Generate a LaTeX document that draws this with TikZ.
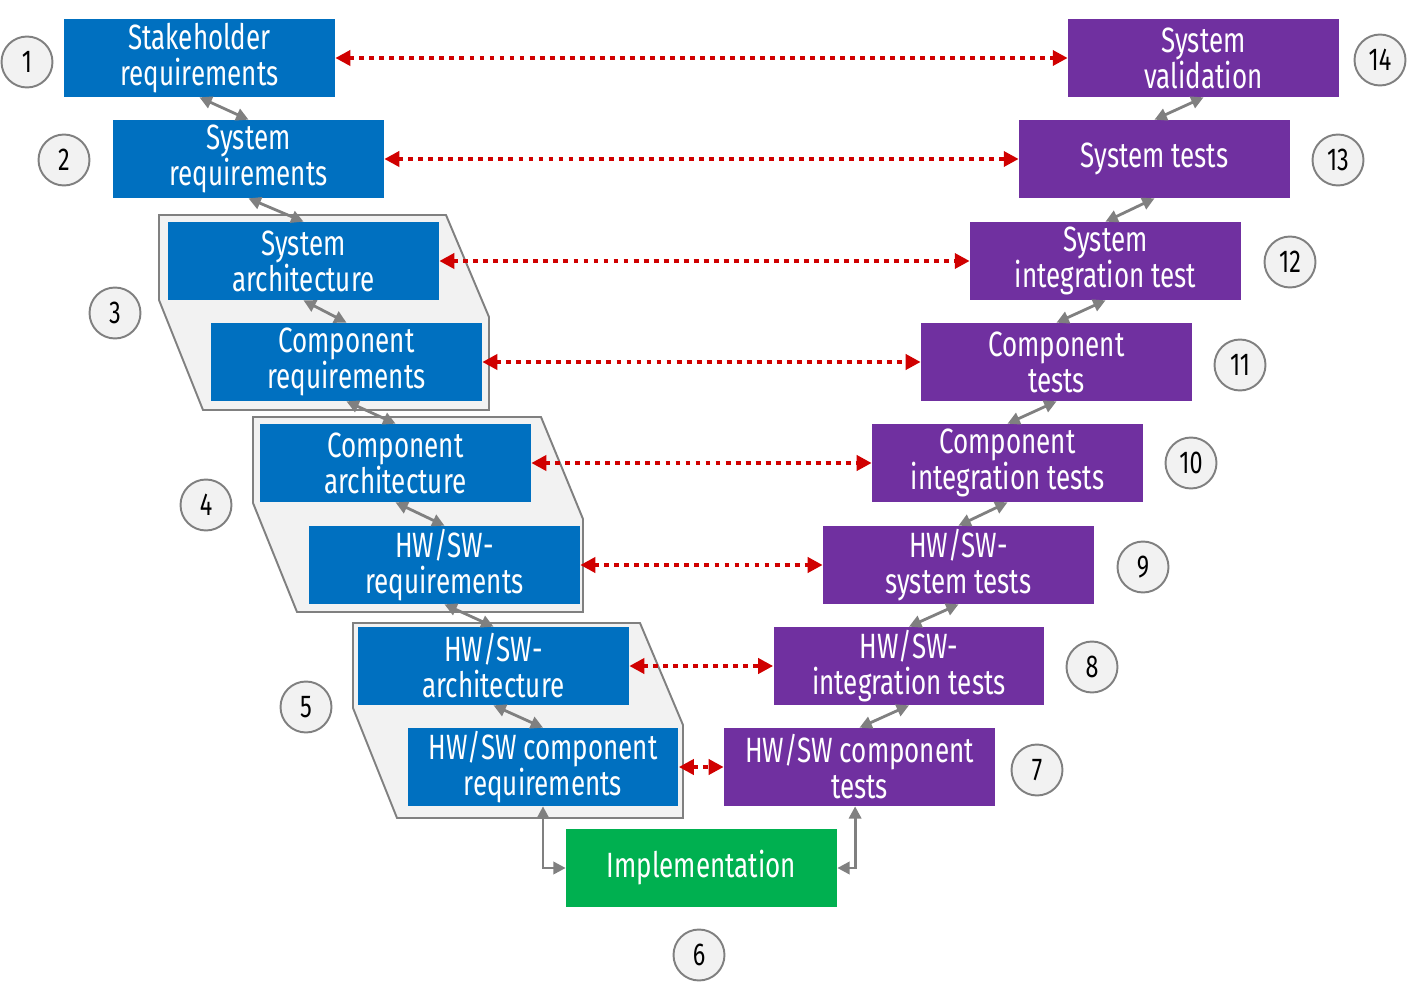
\documentclass[tikz,border=0pt]{standalone}
\usepackage{fontspec}
\setmainfont{Fira Sans}[FakeStretch=0.74]
\usepackage{tikz}
\usetikzlibrary{arrows.meta,positioning,calc}
\definecolor{reqblue}{HTML}{0070C0}
\definecolor{testpurple}{HTML}{7030A0}
\definecolor{implgreen}{HTML}{00B050}
\definecolor{linkred}{HTML}{D00000}
\definecolor{linkgray}{HTML}{808080}
\definecolor{groupfill}{HTML}{F2F2F2}
\tikzset{
  every node/.append style={align=center},
  stagebox/.style={minimum width=5.42cm, minimum height=1.56cm, inner sep=0pt,
    text=white, font=\fontsize{20}{20.5}\selectfont},
  reqbox/.style={stagebox, fill=reqblue},
  testbox/.style={stagebox, fill=testpurple},
  implbox/.style={stagebox, fill=implgreen},
  stepno/.style={circle, draw=linkgray, fill=groupfill, line width=1.1pt,
    minimum size=1.02cm, inner sep=0pt, font=\fontsize{18}{18}\selectfont},
  grouppoly/.style={draw=linkgray, fill=groupfill, line width=1.1pt},
  flow/.style={draw=linkgray, line width=1.6pt, {Triangle[length=7pt,width=7pt]}-{Triangle[length=7pt,width=7pt]}},
  verify/.style={draw=linkred, line width=2.8pt, dash pattern=on 2.8pt off 2.9pt,
    {Triangle[length=8.5pt,width=8.5pt]}-{Triangle[length=8.5pt,width=8.5pt]}}
}

\begin{document}
\begin{tikzpicture}[x=0.02cm, y=-0.02cm]
    \useasboundingbox (0,0) rectangle (1414,993);

    % Grouping backgrounds
    \draw[grouppoly] (159,215) -- (446,215) -- (489,317) -- (489,410) -- (203,410) -- (159,300) -- cycle;
    \draw[grouppoly] (253,417) -- (541,417) -- (583,519) -- (583,612) -- (297,612) -- (253,503) -- cycle;
    \draw[grouppoly] (353,623) -- (640,623) -- (683,725) -- (683,818) -- (397,818) -- (353,708) -- cycle;

    % Left branch: requirements
    \node[reqbox] (stakeReq) at (199.5,58) {Stakeholder\\requirements};
    \node[reqbox] (sysReq) at (248.5,159) {System\\requirements};
    \node[reqbox] (sysArch) at (303.5,261) {System\\architecture};
    \node[reqbox] (compReq) at (346.5,362) {Component\\requirements};
    \node[reqbox] (compArch) at (395.5,463) {Component\\architecture};
    \node[reqbox] (hwswReq) at (444.5,565) {HW/SW-\\requirements};
    \node[reqbox] (hwswArch) at (493.5,666) {HW/SW-\\architecture};
    \node[reqbox] (hwswCompReq) at (543,767) {HW/SW component\\requirements};

    % Bottom
    \node[implbox] (impl) at (701.5,868) {Implementation};

    % Right branch: tests
    \node[testbox] (sysVal) at (1203.5,58) {System\\validation};
    \node[testbox] (sysTest) at (1154.5,159) {System tests};
    \node[testbox] (sysInt) at (1105.5,261) {System\\integration test};
    \node[testbox] (compTest) at (1056.5,362) {Component\\tests};
    \node[testbox] (compInt) at (1007.5,463) {Component\\integration tests};
    \node[testbox] (hwswSysTest) at (958.5,565) {HW/SW-\\system tests};
    \node[testbox] (hwswInt) at (909,666) {HW/SW-\\integration tests};
    \node[testbox] (hwswCompTest) at (859.5,767) {HW/SW component\\tests};

    % Step numbers
    \node[stepno] (n1) at (27,62) {1};
    \node[stepno] (n2) at (64,160) {2};
    \node[stepno] (n3) at (115,313) {3};
    \node[stepno] (n4) at (206,505) {4};
    \node[stepno] (n5) at (306,707) {5};
    \node[stepno] (n6) at (699,955) {6};
    \node[stepno] (n7) at (1037,770) {7};
    \node[stepno] (n8) at (1092,667) {8};
    \node[stepno] (n9) at (1143,567) {9};
    \node[stepno] (n10) at (1191,463) {10};
    \node[stepno] (n11) at (1240,365) {11};
    \node[stepno] (n12) at (1290,262) {12};
    \node[stepno] (n13) at (1338,160) {13};
    \node[stepno] (n14) at (1380,60) {14};

    % Flow down the left side
    \draw[flow] (stakeReq.south) -- (sysReq.north);
    \draw[flow] (sysReq.south) -- (sysArch.north);
    \draw[flow] (sysArch.south) -- (compReq.north);
    \draw[flow] (compReq.south) -- (compArch.north);
    \draw[flow] (compArch.south) -- (hwswReq.north);
    \draw[flow] (hwswReq.south) -- (hwswArch.north);
    \draw[flow] (hwswArch.south) -- (hwswCompReq.north);

    % Flow up the right side
    \draw[flow] (sysVal.south) -- (sysTest.north);
    \draw[flow] (sysTest.south) -- (sysInt.north);
    \draw[flow] (sysInt.south) -- (compTest.north);
    \draw[flow] (compTest.south) -- (compInt.north);
    \draw[flow] (compInt.south) -- (hwswSysTest.north);
    \draw[flow] (hwswSysTest.south) -- (hwswInt.north);
    \draw[flow] (hwswInt.south) -- (hwswCompTest.north);

    % Implementation links
    \draw[flow] (hwswCompReq.south) |- (impl.west);
    \draw[flow] ([xshift=-2.5]hwswCompTest.south) |- (impl.east);

    % Verification links
    \draw[verify] (stakeReq.east) -- (sysVal.west);
    \draw[verify] (sysReq.east) -- (sysTest.west);
    \draw[verify] (sysArch.east) -- (sysInt.west);
    \draw[verify] (compReq.east) -- (compTest.west);
    \draw[verify] (compArch.east) -- (compInt.west);
    \draw[verify] (hwswReq.east) -- (hwswSysTest.west);
    \draw[verify] (hwswArch.east) -- (hwswInt.west);
    \draw[verify] (hwswCompReq.east) -- (hwswCompTest.west);
\end{tikzpicture}
\end{document}
